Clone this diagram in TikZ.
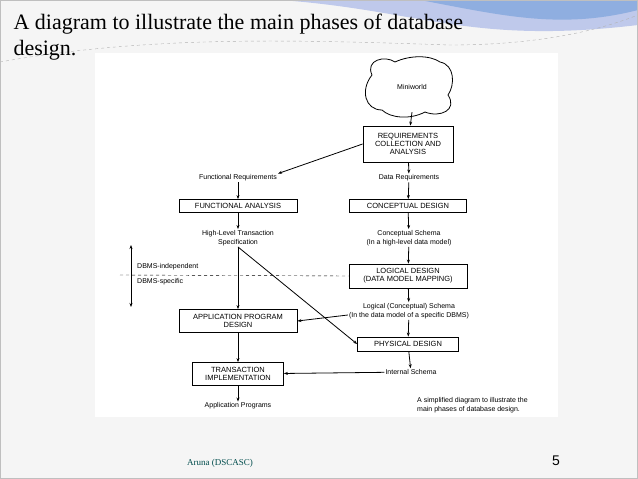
\documentclass[tikz,border=0pt]{standalone}
\usepackage{fontspec}
\setmainfont{Liberation Serif}
\setsansfont{Liberation Sans}
\usetikzlibrary{arrows.meta}
\begin{document}
\begin{tikzpicture}[x=1pt,y=-1pt,
    box/.style={rectangle, draw, thick, font=\sffamily\fontsize{7.5}{8}\selectfont, align=center, inner sep=1pt},
    lbl/.style={font=\sffamily\fontsize{7}{9}\selectfont, align=center, inner sep=1pt},
    arr/.style={-{Stealth[length=4pt,width=3pt]}, thick}]
    % slide background
    \useasboundingbox (0,0) rectangle (638,479);
    \fill[gray!8] (0,0) rectangle (638,479);
    \fill[cyan!40!blue!25] (280,0) .. controls (420,10) and (470,45) .. (638,25) -- (638,0) -- cycle;
    \fill[cyan!50!blue!45] (420,0) .. controls (500,15) and (560,30) .. (638,10) -- (638,0) -- cycle;
    \draw[gray!60, dashed] (0,62) .. controls (150,35) and (300,40) .. (450,45) .. controls (540,45) and (600,30) .. (638,15);
    \draw[gray!50, line width=2pt] (0,0) rectangle (638,479);
    \fill[white] (95,53) rectangle (558,417);
    \node[anchor=west, font=\fontsize{22}{26}\selectfont, align=left] (title) at (10,37)
        {A diagram to illustrate the main phases of database\\design.};

    % cloud
    \draw[thick] (372,75) .. controls (365,60) and (385,55) .. (395,62) .. controls (410,55) and (430,55) .. (440,62)
        .. controls (455,65) and (455,85) .. (448,95) .. controls (458,110) and (440,118) .. (425,112)
        .. controls (410,120) and (390,118) .. (382,110) .. controls (365,110) and (360,90) .. (372,75) -- cycle;
    \node[lbl, minimum height=50pt] (mini) at (412,87) {Miniworld};

    % right column
    \node[box, minimum width=90pt, minimum height=36pt] (req) at (408,144) {REQUIREMENTS\\COLLECTION AND\\ANALYSIS};
    \node[lbl] (datareq) at (409,178) {Data Requirements};
    \node[box, minimum width=117pt, minimum height=13pt] (concep) at (408,206) {CONCEPTUAL DESIGN};
    \node[lbl] (cschema) at (409,238) {Conceptual Schema\\(In a high-level data model)};
    \node[box, minimum width=118pt, minimum height=24pt] (logic) at (408,276) {LOGICAL DESIGN\\(DATA MODEL MAPPING)};
    \node[lbl] (lschema) at (409,311) {Logical (Conceptual) Schema\\(In the data model of a specific DBMS)};
    \node[box, minimum width=101pt, minimum height=14pt] (phys) at (408,344) {PHYSICAL DESIGN};
    \node[lbl] (intern) at (411,372) {Internal Schema};

    % left column
    \node[lbl] (funcreq) at (238,178) {Functional Requirements};
    \node[box, minimum width=118pt, minimum height=13pt] (funcan) at (238,206) {FUNCTIONAL ANALYSIS};
    \node[lbl] (hlts) at (238,238) {High-Level Transaction\\Specification};
    \node[box, minimum width=118pt, minimum height=23pt] (appdes) at (238,321) {APPLICATION PROGRAM\\DESIGN};
    \node[box, minimum width=91pt, minimum height=23pt] (trans) at (238,374) {TRANSACTION\\IMPLEMENTATION};
    \node[lbl] (appprog) at (238,406) {Application Programs};

    % DBMS split
    \coordinate (dashL) at (120,275);
    \coordinate (updn) at (131,245);
    \coordinate (dndn) at (131,307);
    \coordinate (lsL) at ([yshift=-4pt]lschema.west);
    \draw[dashed] (dashL) -- (logic.west);
    \draw[{Stealth[length=4pt,width=3pt]}-{Stealth[length=4pt,width=3pt]}, thick] (updn) -- (dndn);
    \node[lbl, anchor=west] (indep) at (136,267) {DBMS-independent};
    \node[lbl, anchor=west] (spec) at (136,282) {DBMS-specific};

    % connectors
    \draw[arr] (mini.south) -- (req);
    \draw[arr] (req) -- (datareq);
    \draw[arr] (datareq) -- (concep);
    \draw[arr] (concep) -- (cschema);
    \draw[arr] (cschema) -- (logic);
    \draw[arr] (logic) -- (lschema);
    \draw[arr] (lschema) -- (phys);
    \draw[arr] (phys) -- (intern);
    \draw[arr] (intern) -- (trans);
    \draw[arr] (req.west) -- (funcreq.north east);
    \draw[arr] (funcreq) -- (funcan);
    \draw[arr] (funcan) -- (hlts);
    \draw[arr] (hlts) -- (appdes);
    \draw[arr] (hlts.south) -- (phys.west);
    \draw[arr] (lsL) -- (appdes.east);
    \draw[arr] (appdes) -- (trans);
    \draw[arr] (trans) -- (appprog);

    \node[lbl, anchor=west, align=left] (caption) at (416,405) {A simplified diagram to illustrate the\\main phases of database design.};

    % footer
    \node[font=\fontsize{9}{10}\selectfont, text=teal!60!black] (author) at (220,463) {Aruna (DSCASC)};
    \node[font=\sffamily\fontsize{14}{14}\selectfont] (page) at (556,461) {5};
\end{tikzpicture}
\end{document}
